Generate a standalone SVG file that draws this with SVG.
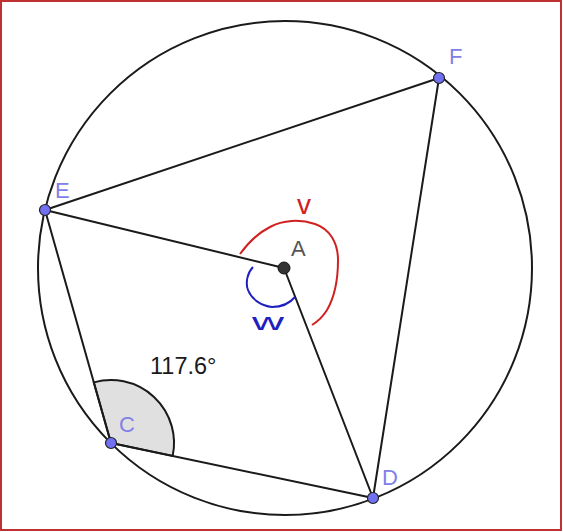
<svg xmlns="http://www.w3.org/2000/svg" width="563" height="532" viewBox="0 0 563 532">
<style>
.ln{stroke:#1a1a1a;stroke-width:2;fill:none;stroke-linecap:round}
.pt{fill:#7070f0;stroke:#222;stroke-width:1.2}
.lbl{font-family:"Liberation Sans",Arial,sans-serif;font-size:22px;fill:#8080e8}
</style>
<rect x="1" y="1" width="560" height="529" fill="#fff" stroke="#c03030" stroke-width="2"/>
<g id="circle"><circle cx="285" cy="268" r="247" class="ln"/></g>
<g id="angleC">
<path d="M111,443 L93.8,382.4 A63,63 0 0 1 172.7,455.9 Z" fill="#e0e0e0" stroke="#1a1a1a" stroke-width="2"/>
<text x="150" y="374" font-family="Liberation Sans, Arial, sans-serif" font-size="23.5" fill="#1a1a1a">117.6°</text>
</g>
<g id="connectors">
<line class="ln" x1="45" y1="210" x2="439" y2="78"/>
<line class="ln" x1="439" y1="78" x2="373" y2="498"/>
<line class="ln" x1="373" y1="498" x2="111" y2="443"/>
<line class="ln" x1="111" y1="443" x2="45" y2="210"/>
<line class="ln" x1="45" y1="210" x2="284" y2="268"/>
<line class="ln" x1="284" y1="268" x2="373" y2="498"/>
</g>
<g id="annotV">
<path d="M240,254 C248,243 258,233 270,227 C283,220 300,219 315,224 C330,229 338,243 338,260 C338,280 334,298 327,310 C322,318 317,322 312,325" fill="none" stroke="#d02020" stroke-width="2"/>
<text x="297" y="214" font-family="Liberation Sans, Arial, sans-serif" font-size="28" fill="#d02020">v</text>
</g>
<g id="annotW">
<path d="M253,267 C248,272 245,282 248,290 C252,300 262,306 272,307 C282,307 290,303 295,297" fill="none" stroke="#2020c0" stroke-width="2"/>
<text x="252" y="330" textLength="32" lengthAdjust="spacingAndGlyphs" font-family="Liberation Sans, Arial, sans-serif" font-size="23" fill="#2020c0">w</text>
</g>
<g id="E"><circle class="pt" cx="45" cy="210" r="5.5"/><text class="lbl" x="55" y="198">E</text></g>
<g id="F"><circle class="pt" cx="439" cy="78" r="5.5"/><text class="lbl" x="449" y="64">F</text></g>
<g id="D"><circle class="pt" cx="373" cy="498" r="5.5"/><text class="lbl" x="382" y="485">D</text></g>
<g id="C"><circle class="pt" cx="111" cy="443" r="5.5"/><text class="lbl" x="119" y="432">C</text></g>
<g id="A"><circle cx="284" cy="268" r="6" fill="#333" stroke="#111" stroke-width="1"/><text x="291" y="256" font-family="Liberation Sans, Arial, sans-serif" font-size="22" fill="#555">A</text></g>
</svg>
